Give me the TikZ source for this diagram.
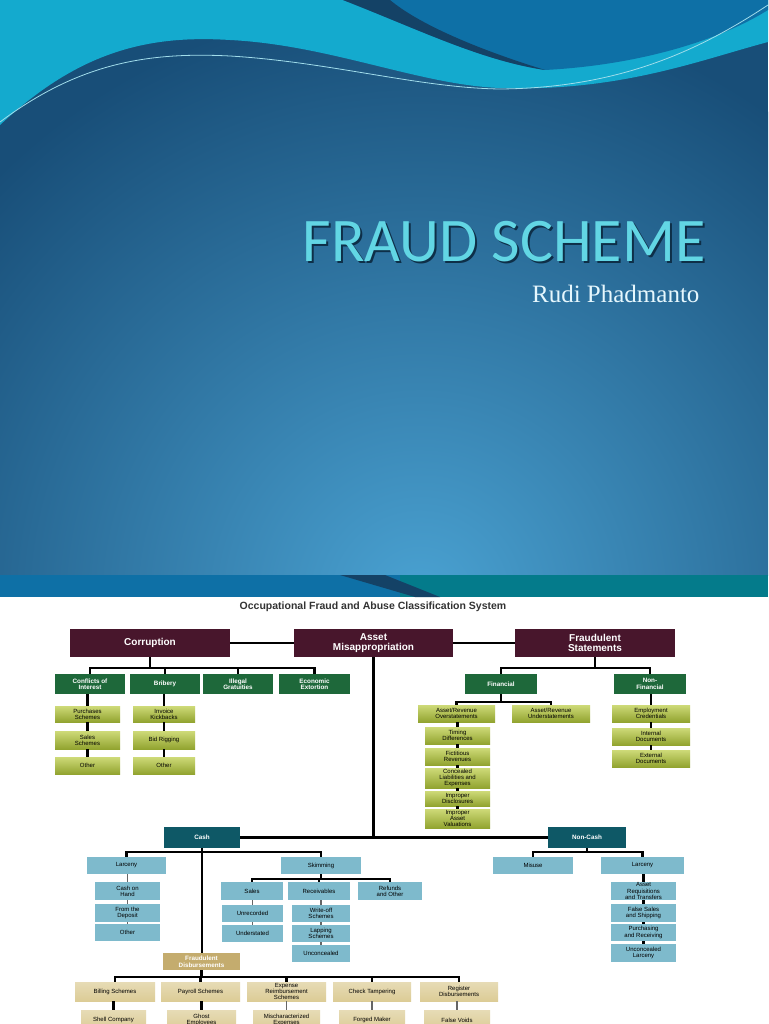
\documentclass[tikz,border=0pt]{standalone}
\usepackage{fontspec}
\setmainfont{Liberation Sans}
\newfontfamily\carl{Carlito}
\newfontfamily\lserif{Liberation Serif}
\usetikzlibrary{calc}
\definecolor{maroon}{RGB}{72,22,44}
\definecolor{dgreen}{RGB}{30,104,58}
\definecolor{olivT}{RGB}{206,218,120}
\definecolor{olivB}{RGB}{146,164,48}
\definecolor{dteal}{RGB}{14,88,102}
\definecolor{lteal}{RGB}{126,186,204}
\definecolor{tan}{RGB}{220,204,150}
\definecolor{dtan}{RGB}{196,172,110}
\definecolor{bgin}{RGB}{74,162,210}
\definecolor{bgout}{RGB}{24,78,120}
\definecolor{cyanw}{RGB}{20,170,206}
\definecolor{bluew}{RGB}{14,112,166}
\definecolor{titlec}{RGB}{98,214,228}
\tikzset{
 bx/.style={inner sep=0pt, align=center, font=\fontsize{6}{6.3}\selectfont},
 top/.style={bx, fill=maroon, text=white, font=\fontsize{10}{10}\bfseries\selectfont},
 grn/.style={bx, fill=dgreen, text=white, font=\fontsize{6.3}{6.5}\bfseries\selectfont},
 olv/.style={bx, top color=olivT, bottom color=olivB, text=black},
 dtl/.style={bx, fill=dteal, text=white, font=\fontsize{6.3}{6.5}\bfseries\selectfont},
 ltl/.style={bx, fill=lteal, text=black},
 ftan/.style={bx, fill=dtan, text=white, font=\fontsize{6.3}{6.5}\bfseries\selectfont},
 ltan/.style={bx, top color=tan!70!white, bottom color=tan, text=black},
 conn/.style={draw=black, line width=2.2pt},
 thin/.style={draw=black!60, line width=1.3pt},
}
\newcommand\bx[7]{\node[#6, minimum width={(#4-#2)*1pt}, minimum height={(#5-#3)*1pt}] (#1) at ({(#2+#4)/2},{(#3+#5)/2}) {#7};}
\begin{document}
\begin{tikzpicture}[x=1pt,y=-1pt]
\useasboundingbox (0,0) rectangle (768,1024);
\fill[white] (0,0) rectangle (768,1024);
% slide background
\begin{scope}
\clip (0,0) rectangle (768,575);
\fill[bgout] (0,0) rectangle (768,575);
\shade[inner color=bgin, outer color=bgout] (420,600) circle (600);
\fill[cyanw] (0,0) -- (768,0) -- (768,42) .. controls (700,60) and (620,92) .. (500,88) .. controls (420,85) and (330,45) .. (230,40) .. controls (150,35) and (80,50) .. (0,125) -- cycle;
\fill[bluew] (343,0) .. controls (420,30) and (480,60) .. (545,70) .. controls (640,65) and (720,40) .. (768,10) -- (768,0) -- cycle;
\fill[bgout!85!black] (343,0) .. controls (420,30) and (480,60) .. (545,70) .. controls (480,50) and (420,25) .. (390,0) -- cycle;
\draw[white!60!cyanw, line width=0.8pt] (0,122) .. controls (80,62) and (150,52) .. (230,56) .. controls (330,62) and (420,88) .. (500,89) .. controls (620,88) and (700,50) .. (768,5);
\end{scope}
\begin{scope}
\clip (0,575) rectangle (768,597);
\fill[bluew] (0,575) rectangle (768,597);
\fill[teal!70!bluew] (400,575) rectangle (768,597);
\fill[bgout!85!black] (340,575) -- (385,575) -- (440,597) -- (415,597) -- cycle;
\end{scope}
% title
\node[text=black!40!bgout, font=\carl\fontsize{62}{62}\selectfont, anchor=base] at (506,263) {FRAUD SCHEME};
\node[text=titlec, font=\carl\fontsize{62}{62}\selectfont, anchor=base] (ttl) at (504,261) {FRAUD SCHEME};
\node[text=white!90!cyan, font=\lserif\fontsize{25}{25}\selectfont, anchor=base east] (sub) at (703,302) {Rudi Phadmanto};
% chart title
\node[font=\fontsize{10.5}{10.5}\bfseries\selectfont, text=black!80] (ctitle) at (373,607) {Occupational Fraud and Abuse Classification System};
% top
\bx{corr}{70}{629}{230}{657}{top}{Corruption}
\bx{am}{294}{629}{453}{657}{top}{Asset\\Misappropriation}
\bx{fs}{515}{629}{675}{657}{top}{Fraudulent\\Statements}
\draw[conn] (corr.east) -- (am.west);
\draw[conn] (am.east) -- (fs.west);
% corruption
\bx{coi}{55}{674}{125}{694}{grn}{Conflicts of\\Interest}
\bx{brib}{130}{674}{200}{694}{grn}{Bribery}
\bx{ill}{203}{674}{273}{694}{grn}{Illegal\\Gratuities}
\bx{eco}{279}{674}{350}{694}{grn}{Economic\\Extortion}
\foreach \c in {coi,brib,ill,eco} \draw[conn] (corr.south) -- ++(0,11) -| (\c.north);
\bx{ps}{55}{706}{120}{722}{olv}{Purchases\\Schemes}
\bx{ss}{55}{731}{120}{749}{olv}{Sales\\Schemes}
\bx{co}{55}{757}{120}{774}{olv}{Other}
\bx{ik}{133}{706}{195}{722}{olv}{Invoice\\Kickbacks}
\bx{br}{133}{731}{195}{749}{olv}{Bid Rigging}
\bx{bo}{133}{757}{195}{774}{olv}{Other}
\draw[conn] (coi.south -| ps.north) -- (ps.north); \draw[conn] (ps.south) -- (ss.north); \draw[conn] (ss.south) -- (co.north);
\draw[conn] (brib.south -| ik.north) -- (ik.north); \draw[conn] (ik.south) -- (br.north); \draw[conn] (br.south) -- (bo.north);
% fraudulent statements
\bx{fin}{465}{674}{537}{694}{grn}{Financial}
\bx{nfin}{614}{674}{686}{694}{grn}{Non-\\Financial}
\foreach \c in {fin,nfin} \draw[conn] (fs.south) -- ++(0,11) -| (\c.north);
\bx{aro}{418}{705}{495}{722}{olv}{Asset/Revenue\\Overstatements}
\bx{aru}{512}{705}{590}{722}{olv}{Asset/Revenue\\Understatements}
\foreach \c in {aro,aru} \draw[conn] (fin.south) -- ++(0,8) -| (\c.north);
\bx{td}{425}{727}{490}{744}{olv}{Timing\\Differences}
\bx{fr}{425}{748}{490}{765}{olv}{Fictitious\\Revenues}
\bx{cl}{425}{768}{490}{788}{olv}{Concealed\\Liabilities and\\Expenses}
\bx{id}{425}{791}{490}{806}{olv}{Improper\\Disclosures}
\bx{iav}{425}{809}{490}{828}{olv}{Improper\\Asset\\Valuations}
\draw[conn] (aro.south -| td.north) -- (td.north);
\draw[conn] (td.south) -- (fr.north); \draw[conn] (fr.south) -- (cl.north); \draw[conn] (cl.south) -- (id.north); \draw[conn] (id.south) -- (iav.north);
\bx{ec}{612}{705}{690}{722}{olv}{Employment\\Credentials}
\bx{idoc}{612}{728}{690}{745}{olv}{Internal\\Documents}
\bx{edoc}{612}{750}{690}{767}{olv}{External\\Documents}
\draw[conn] (nfin.south -| ec.north) -- (ec.north); \draw[conn] (ec.south) -- (idoc.north); \draw[conn] (idoc.south) -- (edoc.north);
% asset misappropriation
\bx{cash}{164}{827}{240}{848}{dtl}{Cash}
\bx{ncash}{548}{827}{626}{848}{dtl}{Non-Cash}
\draw[conn] (am.south) |- (cash.east);
\draw[conn] (am.south) |- (ncash.west);
\bx{clar}{87}{857}{166}{874}{ltl}{Larceny}
\bx{skim}{281}{857}{361}{874}{ltl}{Skimming}
\foreach \c in {clar,skim} \draw[conn] (cash.south) -- ++(0,4) -| (\c.north);
\bx{coh}{95}{882}{160}{900}{ltl}{Cash on\\Hand}
\bx{ftd}{95}{904}{160}{922}{ltl}{From the\\Deposit}
\bx{cot}{95}{924}{160}{941}{ltl}{Other}
\draw[thin] (clar.south -| coh.north) -- (coh.north); \draw[thin] (coh.south) -- (ftd.north); \draw[thin] (ftd.south) -- (cot.north);
\bx{sal}{221}{882}{283}{900}{ltl}{Sales}
\bx{rec}{288}{882}{350}{900}{ltl}{Receivables}
\bx{rao}{358}{882}{422}{900}{ltl}{Refunds\\and Other}
\foreach \c in {sal,rec,rao} \draw[conn] (skim.south) -- ++(0,5) -| (\c.north);
\bx{unr}{222}{905}{283}{922}{ltl}{Unrecorded}
\bx{und}{222}{925}{283}{942}{ltl}{Understated}
\draw[thin] (sal.south -| unr.north) -- (unr.north); \draw[thin] (unr.south) -- (und.north);
\bx{wos}{292}{905}{350}{922}{ltl}{Write-off\\Schemes}
\bx{lap}{292}{925}{350}{942}{ltl}{Lapping\\Schemes}
\bx{unc}{292}{945}{350}{962}{ltl}{Unconcealed}
\draw[thin] (rec.south -| wos.north) -- (wos.north); \draw[thin] (wos.south) -- (lap.north); \draw[thin] (lap.south) -- (unc.north);
\bx{mis}{493}{857}{573}{874}{ltl}{Misuse}
\bx{nlar}{601}{857}{684}{874}{ltl}{Larceny}
\foreach \c in {mis,nlar} \draw[conn] (ncash.south) -- ++(0,4) -| (\c.north);
\bx{art}{611}{882}{676}{900}{ltl}{Asset\\Requisitions\\and Transfers}
\bx{fss}{611}{904}{676}{922}{ltl}{False Sales\\and Shipping}
\bx{par}{611}{924}{676}{941}{ltl}{Purchasing\\and Receiving}
\bx{ul}{611}{944}{676}{962}{ltl}{Unconcealed\\Larceny}
\draw[conn] (nlar.south -| art.north) -- (art.north); \draw[conn] (art.south) -- (fss.north); \draw[conn] (fss.south) -- (par.north); \draw[conn] (par.south) -- (ul.north);
% fraudulent disbursements
\bx{fd}{163}{953}{240}{970}{ftan}{Fraudulent\\Disbursements}
\draw[conn] (cash.south) -- (cash.south |- fd.north);
\bx{bs}{75}{982}{155}{1001}{ltan}{Billing Schemes}
\bx{pys}{161}{982}{240}{1001}{ltan}{Payroll Schemes}
\bx{ers}{247}{982}{326}{1001}{ltan}{Expense\\Reimbursement\\Schemes}
\bx{ct}{333}{982}{411}{1001}{ltan}{Check Tampering}
\bx{rd}{420}{982}{498}{1001}{ltan}{Register\\Disbursements}
\foreach \c in {bs,pys,ers,ct,rd} \draw[conn] (fd.south) -- ++(0,7) -| (\c.north);
\bx{shc}{81}{1010}{146}{1030}{ltan}{Shell Company}
\bx{ge}{167}{1010}{236}{1030}{ltan}{Ghost\\Employees}
\bx{mce}{253}{1010}{320}{1030}{ltan}{Mischaracterized\\Expenses}
\bx{fm}{339}{1010}{405}{1030}{ltan}{Forged Maker}
\bx{fv}{424}{1010}{490}{1030}{ltan}{False Voids}
\draw[conn] (bs.south -| shc.north) -- (shc.north);
\draw[conn] (pys.south -| ge.north) -- (ge.north);
\draw[thin] (ers.south -| mce.north) -- (mce.north);
\draw[thin] (ct.south -| fm.north) -- (fm.north);
\draw[thin] (rd.south -| fv.north) -- (fv.north);
\end{tikzpicture}
\end{document}
